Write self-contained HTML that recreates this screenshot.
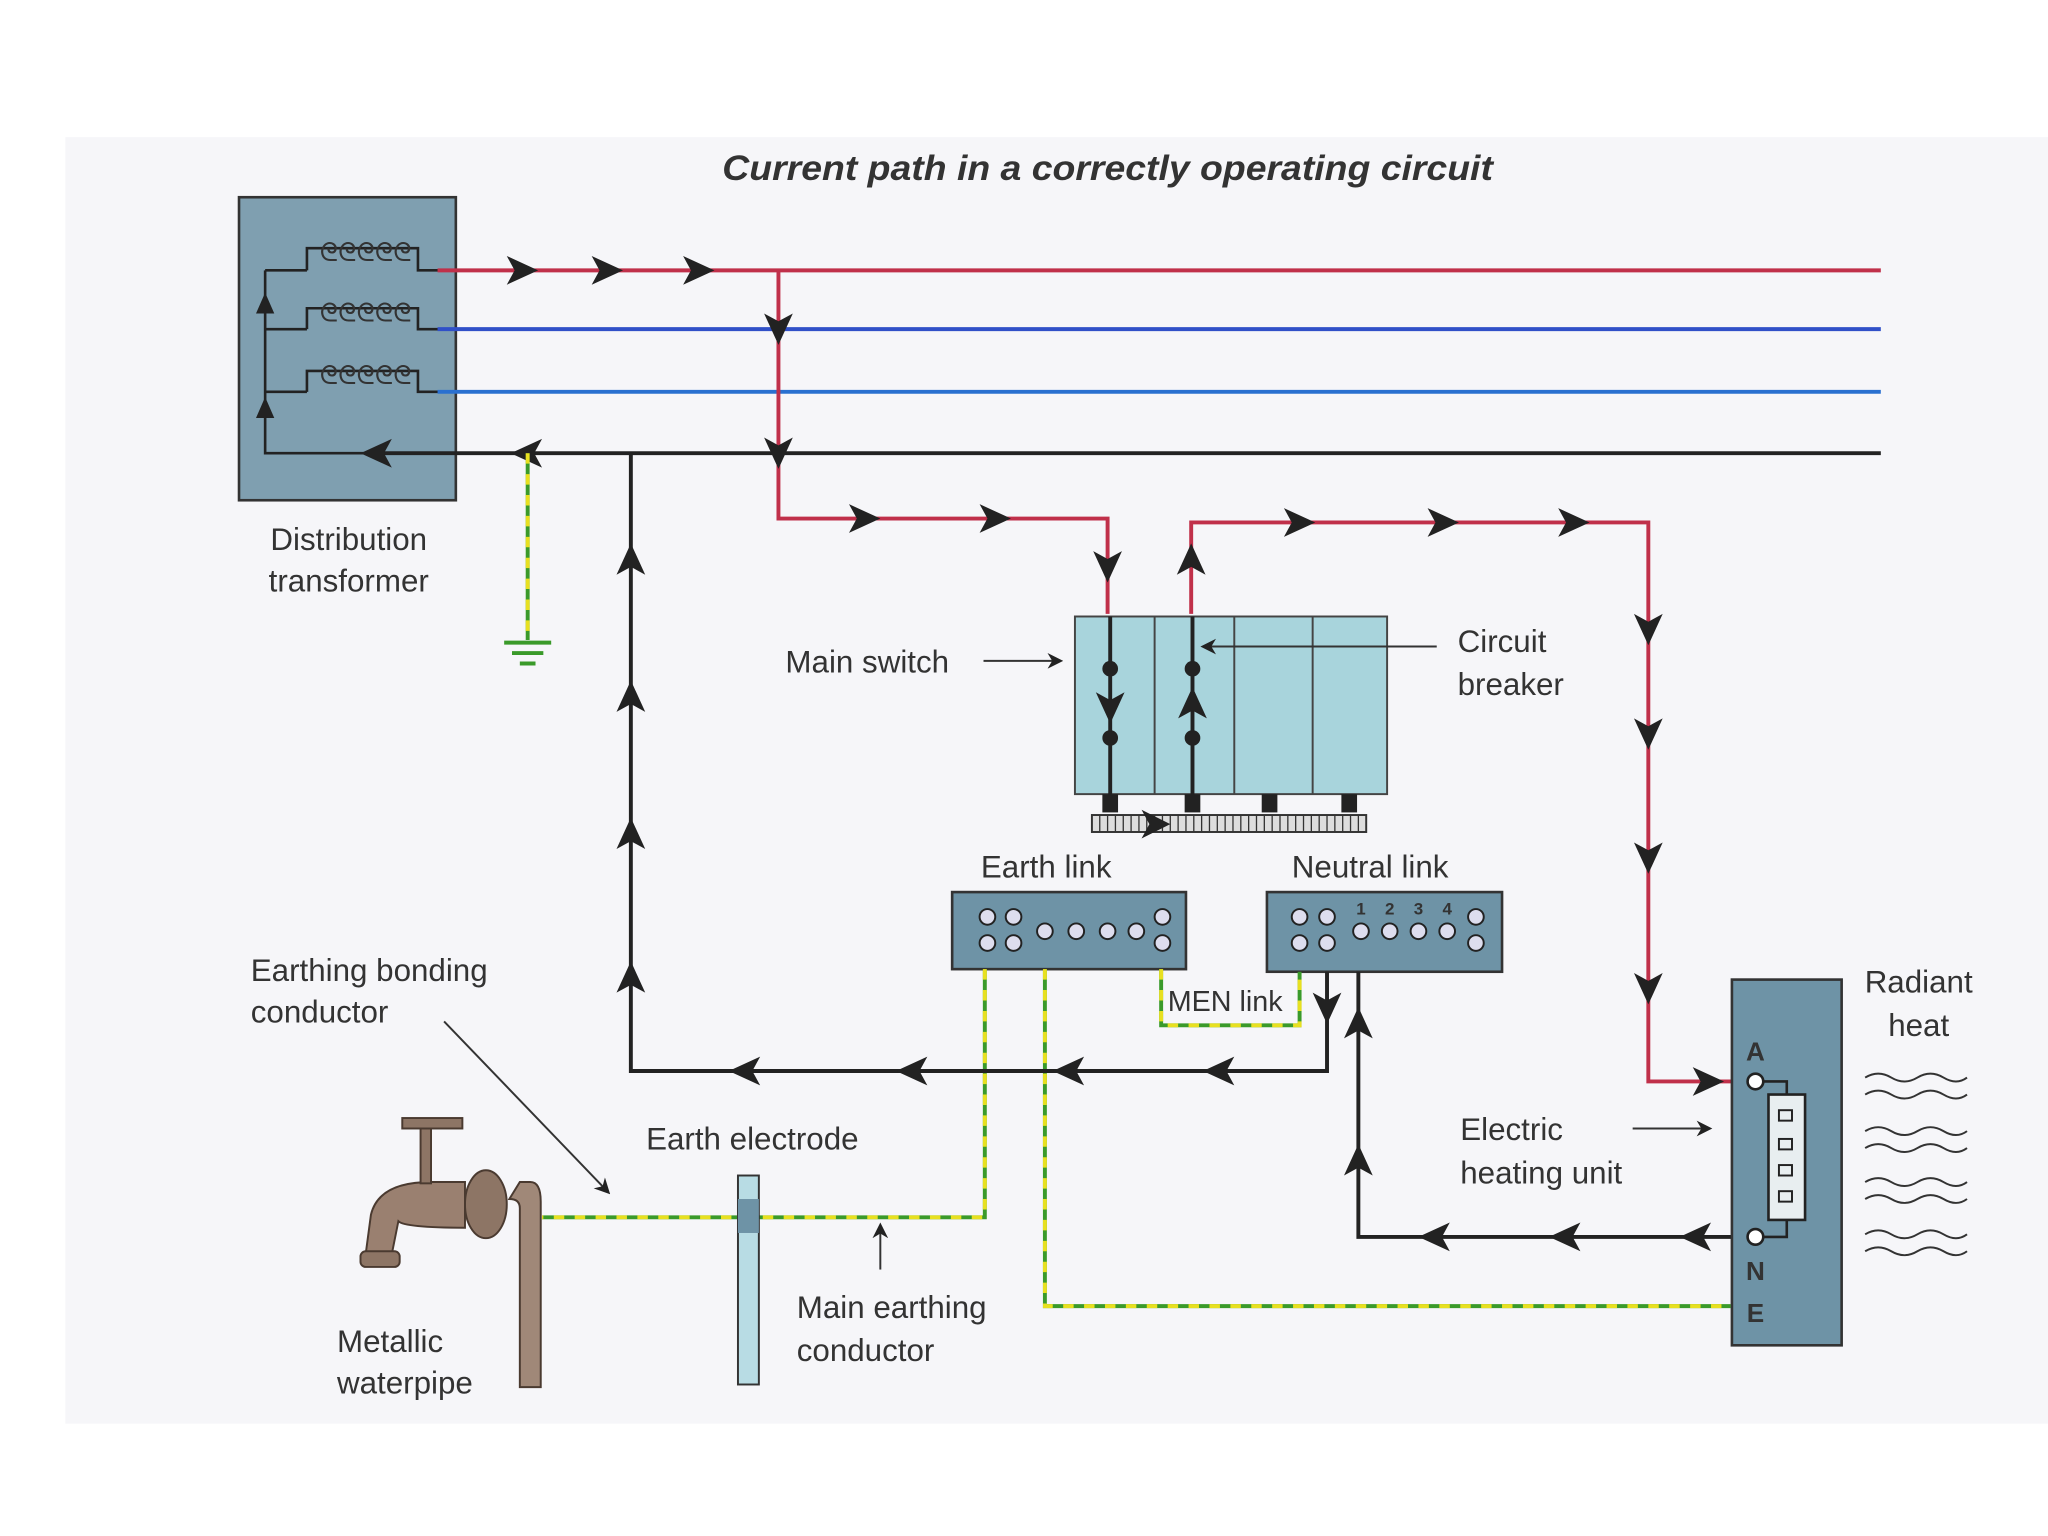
<!DOCTYPE html>
<html><head><meta charset="utf-8"><style>
html,body{margin:0;padding:0;background:#fff;}
svg{display:block;}
text{font-family:"Liberation Sans",Arial,sans-serif;fill:#333;}
</style></head><body>
<svg width="2048" height="1536" viewBox="0 0 1568 1176" xmlns="http://www.w3.org/2000/svg">
<defs>
<marker id="ah" viewBox="0 0 10 10" refX="5" refY="5" markerWidth="8" markerHeight="8" orient="auto"><path d="M0,0 L10,5 L0,10 L3,5z" fill="#222"/></marker>
</defs>
<rect width="1568" height="1176" fill="#fff"/>
<rect x="50" y="105" width="1518" height="985" fill="#f6f6f9"/>
<text x="848" y="138" text-anchor="middle" font-size="27" font-weight="bold" font-style="italic" textLength="590" lengthAdjust="spacingAndGlyphs">Current path in a correctly operating circuit</text>

<!-- transformer -->
<rect x="183" y="151" width="166" height="232" fill="#7f9fb0" stroke="#333" stroke-width="2"/>
<g fill="none" stroke="#222" stroke-width="2">
<path d="M203,207 V347 H349"/>
<path d="M203,207 H235 M203,252 H235 M203,300 H235"/>
<path d="M235,207 V190 H320 V207 H340 M235,252 V236 H320 V252 H340 M235,300 V284 H320 V300 H340"/>
</g>
<text x="280" y="200" text-anchor="middle" font-size="20" fill="#222">ᘓᘓᘓᘓᘓ</text>
<text x="280" y="246" text-anchor="middle" font-size="20" fill="#222">ᘓᘓᘓᘓᘓ</text>
<text x="280" y="294" text-anchor="middle" font-size="20" fill="#222">ᘓᘓᘓᘓᘓ</text>
<path d="M196,240 L203,224 L210,240z M196,320 L203,304 L210,320z" fill="#222"/>
<text x="267" y="421" text-anchor="middle" font-size="24">Distribution</text>
<text x="267" y="453" text-anchor="middle" font-size="24">transformer</text>

<!-- mains -->
<line x1="335" y1="207" x2="1440" y2="207" stroke="#c0304a" stroke-width="3"/>
<line x1="335" y1="252" x2="1440" y2="252" stroke="#3050c8" stroke-width="3"/>
<line x1="335" y1="300" x2="1440" y2="300" stroke="#2a70d0" stroke-width="3"/>
<line x1="280" y1="347" x2="1440" y2="347" stroke="#222" stroke-width="3"/>
<g fill="#222">
<path d="M388,196 L412,207 L388,218 L394,207z"/>
<path d="M453,196 L477,207 L453,218 L459,207z"/>
<path d="M523,196 L547,207 L523,218 L529,207z"/>
<path d="M300,336 L276,347 L300,358 L294,347z"/>
<path d="M415,336 L391,347 L415,358 L409,347z"/>
</g>

<!-- red branch to switch -->
<path d="M596,207 V397 H848 V470" fill="none" stroke="#c0304a" stroke-width="3"/>
<path d="M912,470 V400 H1262 V828 H1340" fill="none" stroke="#c0304a" stroke-width="3"/>
<g fill="#222">
<path d="M585,240 L596,264 L607,240 L596,246z"/>
<path d="M585,335 L596,359 L607,335 L596,341z"/>
<path d="M650,386 L674,397 L650,408 L656,397z"/>
<path d="M750,386 L774,397 L750,408 L756,397z"/>
<path d="M837,422 L848,446 L859,422 L848,428z"/>
<path d="M901,440 L912,416 L923,440 L912,434z"/>
<path d="M983,389 L1007,400 L983,411 L989,400z"/>
<path d="M1093,389 L1117,400 L1093,411 L1099,400z"/>
<path d="M1193,389 L1217,400 L1193,411 L1199,400z"/>
<path d="M1251,470 L1262,494 L1273,470 L1262,476z"/>
<path d="M1251,550 L1262,574 L1273,550 L1262,556z"/>
<path d="M1251,645 L1262,669 L1273,645 L1262,651z"/>
<path d="M1251,745 L1262,769 L1273,745 L1262,751z"/>
<path d="M1296,817 L1320,828 L1296,839 L1302,828z"/>
</g>

<!-- switchboard -->
<rect x="823" y="472" width="239" height="136" fill="#a8d4dc" stroke="#444" stroke-width="1.5"/>
<g stroke="#444" stroke-width="1.5"><line x1="884" y1="472" x2="884" y2="608"/><line x1="945" y1="472" x2="945" y2="608"/><line x1="1005" y1="472" x2="1005" y2="608"/></g>
<g stroke="#222" stroke-width="3"><line x1="850" y1="472" x2="850" y2="615"/><line x1="913" y1="472" x2="913" y2="615"/></g>
<g fill="#222">
<circle cx="850" cy="512" r="6"/><circle cx="850" cy="565" r="6"/>
<circle cx="913" cy="512" r="6"/><circle cx="913" cy="565" r="6"/>
<path d="M839,530 L850,554 L861,530 L850,536z"/>
<path d="M902,550 L913,526 L924,550 L913,544z"/>
<rect x="844" y="608" width="12" height="14"/><rect x="907" y="608" width="12" height="14"/><rect x="966" y="608" width="12" height="14"/><rect x="1027" y="608" width="12" height="14"/>
</g>
<rect x="836" y="624" width="210" height="13" fill="#ddd" stroke="#333" stroke-width="1.5"/>
<g stroke="#333" stroke-width="1">
<path d="M842,624v13M848,624v13M854,624v13M860,624v13M866,624v13M872,624v13M878,624v13M884,624v13M890,624v13M896,624v13M902,624v13M908,624v13M914,624v13M920,624v13M926,624v13M932,624v13M938,624v13M944,624v13M950,624v13M956,624v13M962,624v13M968,624v13M974,624v13M980,624v13M986,624v13M992,624v13M998,624v13M1004,624v13M1010,624v13M1016,624v13M1022,624v13M1028,624v13M1034,624v13M1040,624v13"/>
</g>
<path d="M874,620 L896,631 L874,642 L880,631z" fill="#222"/>
<text x="664" y="515" text-anchor="middle" font-size="24">Main switch</text>
<line x1="753" y1="506" x2="808" y2="506" stroke="#333" stroke-width="1.5" marker-end="url(#ah)"/>
<line x1="1100" y1="495" x2="925" y2="495" stroke="#333" stroke-width="1.5" marker-end="url(#ah)"/>
<text x="1116" y="499" font-size="24">Circuit</text>
<text x="1116" y="532" font-size="24">breaker</text>

<!-- links -->
<text x="801" y="672" text-anchor="middle" font-size="24">Earth link</text>
<text x="1049" y="672" text-anchor="middle" font-size="24">Neutral link</text>
<rect x="729" y="683" width="179" height="59" fill="#6e93a6" stroke="#333" stroke-width="2"/>
<rect x="970" y="683" width="180" height="61" fill="#6e93a6" stroke="#333" stroke-width="2"/>
<g fill="#dde" stroke="#222" stroke-width="1.5">
<circle cx="756" cy="702" r="6"/><circle cx="756" cy="722" r="6"/><circle cx="776" cy="702" r="6"/><circle cx="776" cy="722" r="6"/>
<circle cx="800" cy="713" r="6"/><circle cx="824" cy="713" r="6"/><circle cx="848" cy="713" r="6"/><circle cx="870" cy="713" r="6"/>
<circle cx="890" cy="702" r="6"/><circle cx="890" cy="722" r="6"/>
<circle cx="995" cy="702" r="6"/><circle cx="995" cy="722" r="6"/><circle cx="1016" cy="702" r="6"/><circle cx="1016" cy="722" r="6"/>
<circle cx="1042" cy="713" r="6"/><circle cx="1064" cy="713" r="6"/><circle cx="1086" cy="713" r="6"/><circle cx="1108" cy="713" r="6"/>
<circle cx="1130" cy="702" r="6"/><circle cx="1130" cy="722" r="6"/>
</g>
<text x="1042" y="700" font-size="13" font-weight="bold" text-anchor="middle">1</text>
<text x="1064" y="700" font-size="13" font-weight="bold" text-anchor="middle">2</text>
<text x="1086" y="700" font-size="13" font-weight="bold" text-anchor="middle">3</text>
<text x="1108" y="700" font-size="13" font-weight="bold" text-anchor="middle">4</text>

<!-- earth green/yellow -->
<g fill="none" stroke-width="3">
<path d="M404,347 V490 M754,742 V932 H415 M800,742 V1000 H1325 M889,742 V785 H995 V744" stroke="#3a9a2a"/>
<path d="M404,347 V490 M754,742 V932 H415 M800,742 V1000 H1325 M889,742 V785 H995 V744" stroke="#e8e020" stroke-dasharray="8 8"/>
</g>
<g stroke="#3a9a2a" stroke-width="3"><line x1="386" y1="492" x2="422" y2="492"/><line x1="392" y1="500" x2="416" y2="500"/><line x1="398" y1="508" x2="410" y2="508"/></g>
<text x="938" y="774" text-anchor="middle" font-size="22">MEN link</text>

<!-- neutral return black -->
<path d="M483,347 V820 H1016 V744" fill="none" stroke="#222" stroke-width="3"/>
<path d="M1040,744 V947 H1340" fill="none" stroke="#222" stroke-width="3"/>
<g fill="#222">
<path d="M472,440 L483,416 L494,440 L483,434z"/>
<path d="M472,545 L483,521 L494,545 L483,539z"/>
<path d="M472,650 L483,626 L494,650 L483,644z"/>
<path d="M472,760 L483,736 L494,760 L483,754z"/>
<path d="M582,809 L558,820 L582,831 L576,820z"/>
<path d="M710,809 L686,820 L710,831 L704,820z"/>
<path d="M830,809 L806,820 L830,831 L824,820z"/>
<path d="M945,809 L921,820 L945,831 L939,820z"/>
<path d="M1005,760 L1016,784 L1027,760 L1016,766z"/>
<path d="M1029,795 L1040,771 L1051,795 L1040,789z"/>
<path d="M1029,900 L1040,876 L1051,900 L1040,894z"/>
<path d="M1110,936 L1086,947 L1110,958 L1104,947z"/>
<path d="M1210,936 L1186,947 L1210,958 L1204,947z"/>
<path d="M1310,936 L1286,947 L1310,958 L1304,947z"/>
</g>

<!-- heater -->
<rect x="1326" y="750" width="84" height="280" fill="#6e93a6" stroke="#333" stroke-width="2"/>
<rect x="1354" y="838" width="28" height="96" fill="#e8eef0" stroke="#222" stroke-width="2"/>
<g fill="none" stroke="#222" stroke-width="1.5"><rect x="1362" y="850" width="10" height="8"/><rect x="1362" y="872" width="10" height="8"/><rect x="1362" y="892" width="10" height="8"/><rect x="1362" y="912" width="10" height="8"/></g>
<circle cx="1344" cy="828" r="6" fill="#fff" stroke="#222" stroke-width="2"/>
<circle cx="1344" cy="947" r="6" fill="#fff" stroke="#222" stroke-width="2"/>
<path d="M1350,828 H1368 V838 M1350,947 H1368 V934" fill="none" stroke="#222" stroke-width="2"/>
<text x="1344" y="812" text-anchor="middle" font-size="20" font-weight="bold" fill="#111">A</text>
<text x="1344" y="980" text-anchor="middle" font-size="20" font-weight="bold" fill="#111">N</text>
<text x="1344" y="1012" text-anchor="middle" font-size="20" font-weight="bold" fill="#111">E</text>
<text x="1469" y="760" text-anchor="middle" font-size="24">Radiant</text>
<text x="1469" y="793" text-anchor="middle" font-size="24">heat</text>
<g fill="none" stroke="#333" stroke-width="1.5">
<path d="M1428,825 q10,-6 20,0 t20,0 t20,0 t18,0"/><path d="M1428,838 q10,-6 20,0 t20,0 t20,0 t18,0"/>
<path d="M1428,866 q10,-6 20,0 t20,0 t20,0 t18,0"/><path d="M1428,879 q10,-6 20,0 t20,0 t20,0 t18,0"/>
<path d="M1428,905 q10,-6 20,0 t20,0 t20,0 t18,0"/><path d="M1428,918 q10,-6 20,0 t20,0 t20,0 t18,0"/>
<path d="M1428,945 q10,-6 20,0 t20,0 t20,0 t18,0"/><path d="M1428,958 q10,-6 20,0 t20,0 t20,0 t18,0"/>
</g>
<text x="1118" y="873" font-size="24">Electric</text>
<text x="1118" y="906" font-size="24">heating unit</text>
<line x1="1250" y1="864" x2="1305" y2="864" stroke="#333" stroke-width="1.5" marker-end="url(#ah)"/>

<!-- electrode -->
<rect x="565" y="900" width="16" height="160" fill="#b8dce4" stroke="#333" stroke-width="1.5"/>
<rect x="565" y="918" width="16" height="26" fill="#6e93a6"/>
<text x="576" y="880" text-anchor="middle" font-size="24">Earth electrode</text>
<line x1="674" y1="972" x2="674" y2="942" stroke="#333" stroke-width="1.5" marker-end="url(#ah)"/>
<text x="610" y="1009" font-size="24">Main earthing</text>
<text x="610" y="1042" font-size="24">conductor</text>
<text x="192" y="751" font-size="24">Earthing bonding</text>
<text x="192" y="783" font-size="24">conductor</text>
<line x1="340" y1="782" x2="463" y2="910" stroke="#333" stroke-width="1.5" marker-end="url(#ah)"/>

<!-- tap -->
<g stroke="#4a3a30" stroke-width="1.5">
<path d="M398,905 H406 Q414,905 414,920 V1062 H398 V925 Q398,918 390,918 Z" fill="#a08878"/>
<ellipse cx="372" cy="922" rx="16" ry="26" fill="#8d7565"/>
<path d="M356,905 H330 Q290,905 284,930 L280,960 H300 L305,935 Q310,940 356,940 Z" fill="#9a8070"/>
<rect x="276" y="958" width="30" height="12" rx="4" fill="#8d7565"/>
<rect x="322" y="862" width="8" height="44" fill="#8d7565"/>
<rect x="308" y="856" width="46" height="8" fill="#8d7565"/>
</g>
<text x="258" y="1035" font-size="24">Metallic</text>
<text x="258" y="1067" font-size="24">waterpipe</text>
</svg>
</body></html>
